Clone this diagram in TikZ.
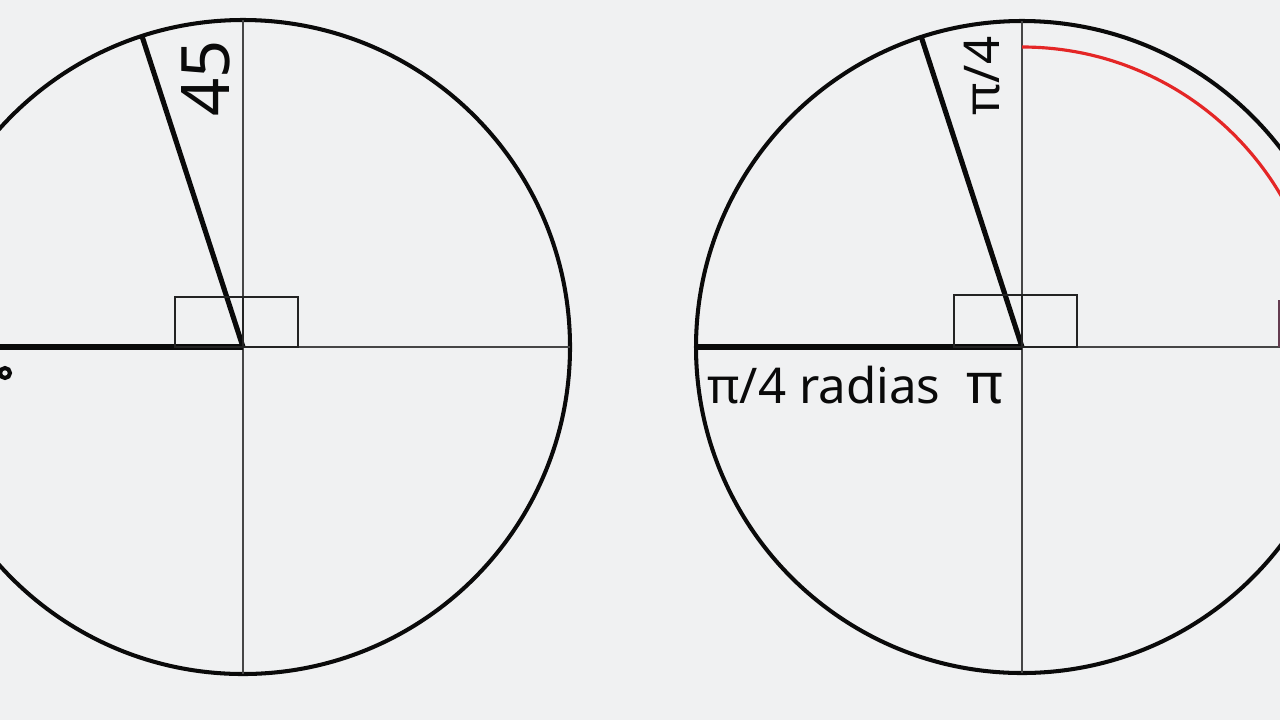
\documentclass[tikz,border=0pt]{standalone}
\usepackage{fontspec}
\setmainfont{Noto Sans}
\usepackage{tikz}
\usetikzlibrary{positioning,calc}
\definecolor{paperbg}{RGB}{240, 241, 242}
\definecolor{rimblack}{RGB}{10, 10, 10}
\definecolor{axisgray}{RGB}{70, 70, 70}
\definecolor{arcred}{RGB}{228, 38, 38}
\definecolor{tickpurple}{RGB}{100, 60, 80}

\begin{document}
\begin{tikzpicture}[
    x=0.01cm, y=0.01cm,
    % line styles for both unit circles
    rim/.style={draw=rimblack, line width=1.15pt},
    axis/.style={draw=axisgray, line width=0.6pt},
    radiusline/.style={draw=rimblack, line width=1.45pt},
    rightangle/.style={draw=rimblack!90, line width=0.8pt},
    redarc/.style={draw=arcred, line width=0.9pt},
    lbl/.style={text=rimblack, inner sep=0pt, font=\fontsize{14}{17}\selectfont}
]
\useasboundingbox (0,0) rectangle (1280,720);
\fill [paperbg] (0,0) rectangle (1280,720);
\clip (0,0) rectangle (1280,720);

% Left circle
\coordinate (lc) at (243,373);
\draw [rim] (lc) circle (327);
\draw [axis] ($(lc)+(0,-327)$) -- ($(lc)+(0,327)$);
\draw [axis] (lc) -- ($(lc)+(327,0)$);
\draw [radiusline] ($(lc)+(-327,0)$) -- (lc);
\draw [radiusline] (lc) -- ($(lc)+(108:326)$);
\draw [rightangle] ($(lc)+(-68,0)$) rectangle ($(lc)+(0,50)$);
\draw [rightangle] (lc) rectangle ($(lc)+(55,50)$);
\node [lbl, rotate=90, font=\fontsize{19}{22}\selectfont] (angdeg) at (206,642) {45};
\draw [rim] (5,347) circle (5);

% Right circle
\coordinate (rc) at (1022,373);
\draw [rim] (rc) circle (326);
\draw [axis] ($(rc)+(0,-326)$) -- ($(rc)+(0,326)$);
\draw [axis] (rc) -- ($(rc)+(326,0)$);
\draw [radiusline] ($(rc)+(-326,0)$) -- (rc);
\draw [radiusline] (rc) -- ($(rc)+(108:325)$);
\draw [rightangle] ($(rc)+(-68,0)$) rectangle ($(rc)+(0,52)$);
\draw [rightangle] (rc) rectangle ($(rc)+(55,52)$);
\draw [redarc] ($(rc)+(0,300)$) arc (90:0:300);
\draw [draw=tickpurple, line width=0.7pt] (1279,373) -- (1279,420);
\node [lbl, anchor=base west] (radtext) at (707,317) {π/4 radias};
\node [lbl, anchor=base, font=\fontsize{16}{19}\selectfont] (pisign) at (985,317) {π};
\node [lbl, rotate=90, font=\fontsize{14}{17}\selectfont] (angrad) at (982,644) {π/4};

\end{tikzpicture}
\end{document}
